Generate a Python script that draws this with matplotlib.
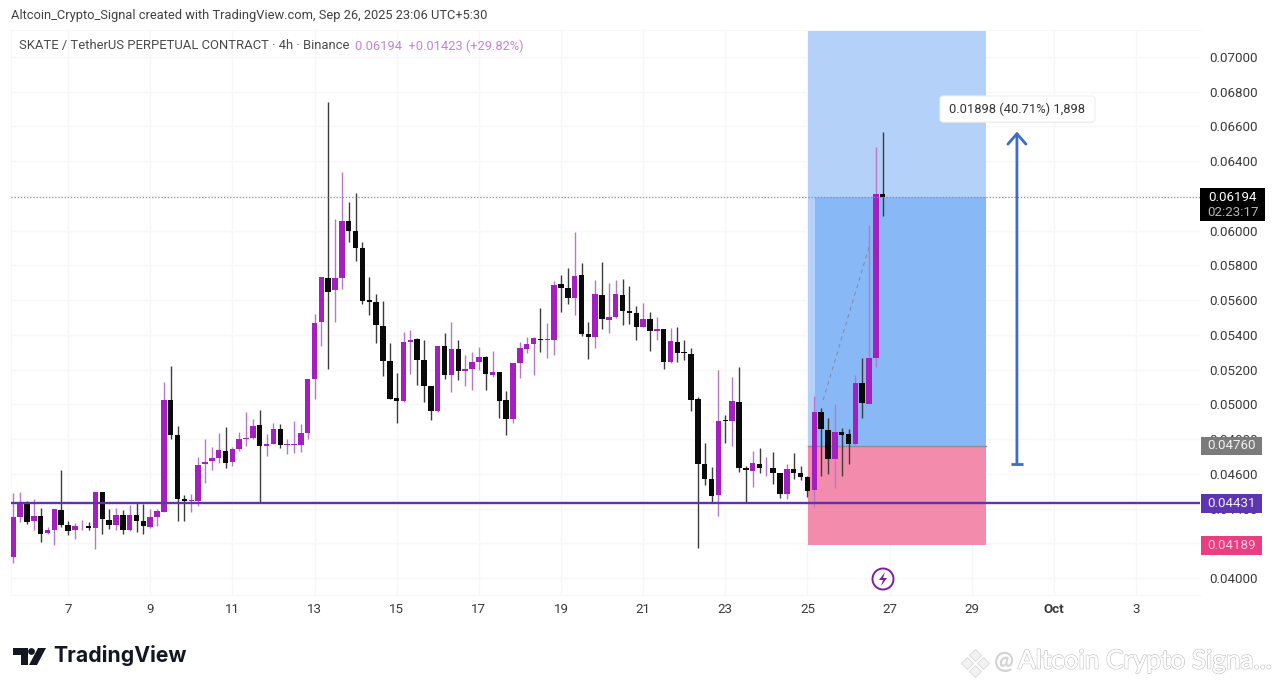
import numpy as np
import matplotlib
matplotlib.use('Agg')
import matplotlib.pyplot as plt
import matplotlib.patheffects as pe
from matplotlib.patches import Rectangle, FancyBboxPatch, Circle, Polygon
from matplotlib.transforms import blended_transform_factory

plt.rcParams['font.family'] = ['Roboto', 'DejaVu Sans']

# prices in exchange ticks (1 tick = 0.00001)
opens = [4118,4352,4425,4327,4358,4260,4279,4389,4304,4276,
         4297,4297,4289,4493,4335,4306,4360,4277,4364,4326,
         4295,4352,4381,5024,4821,4452,4445,4443,4654,4671,
         4690,4733,4665,4742,4798,4807,4880,4759,4773,4859,
         4765,4767,4767,4832,5147,5472,5729,5658,5729,6054,
         5996,5902,5600,5587,5453,5251,5034,5021,5358,5374,
         5255,5105,4961,5335,5168,5318,5193,5201,5245,5274,
         5168,5186,5024,4915,5236,5320,5347,5376,5370,5372,
         5693,5668,5614,5744,5402,5385,5631,5485,5504,5629,
         5535,5527,5447,5491,5424,5431,5241,5360,5299,5287,
         5028,4654,4567,4477,4909,4903,5015,4636,4617,4659,
         4631,4636,4602,4483,4629,4606,4579,4506,4957,4851,
         4686,4842,4830,4769,5120,5001,5264,6209]
highs = [4487,4494,4445,4456,4404,4295,4400,4621,4329,4318,
         4331,4320,4496,4496,4395,4404,4391,4423,4429,4425,
         4395,4400,5130,5220,4875,4477,4483,4698,4802,4756,
         4836,4871,4752,4842,4957,4917,4967,4827,4894,4884,
         4800,4903,4886,5145,5520,5735,6743,6067,6340,6167,
         6215,5933,5731,5633,5595,5355,5182,5414,5428,5380,
         5370,5105,5335,5408,5472,5370,5284,5303,5332,5278,
         5309,5188,5076,5239,5360,5385,5389,5556,5470,5712,
         5744,5787,5990,5811,5475,5715,5821,5696,5715,5721,
         5683,5566,5581,5533,5500,5431,5437,5447,5370,5322,
         5043,4778,4640,5197,4938,5155,5216,4644,4730,4746,
         4694,4727,4606,4659,4721,4644,4586,5047,4976,4919,
         5001,4861,4855,5168,5268,6032,6483,6566]
lows = [4087,4324,4308,4276,4206,4253,4189,4291,4245,4224,
        4276,4276,4164,4256,4283,4276,4251,4272,4266,4251,
        4289,4299,4377,4798,4326,4326,4381,4416,4544,4621,
        4663,4635,4644,4733,4761,4800,4429,4704,4771,4750,
        4715,4721,4727,4800,5028,5335,5201,5472,5664,5933,
        5827,5577,5514,5351,5163,5028,4890,5015,5172,5111,
        5015,4909,4957,5143,5072,5140,5105,5082,5197,5082,
        5159,4919,4823,4894,5149,5293,5168,5303,5268,5284,
        5533,5577,5514,5395,5258,5322,5431,5408,5495,5456,
        5462,5370,5443,5308,5370,5203,5239,5245,5255,4961,
        4170,4535,4439,4356,4778,4759,4611,4433,4521,4602,
        4586,4540,4458,4454,4567,4563,4467,4410,4586,4598,
        4519,4586,4656,4765,4922,4999,5212,6086]
closes = [4349,4429,4324,4358,4256,4276,4395,4304,4272,4297,
          4301,4285,4496,4339,4304,4360,4277,4364,4327,4299,
          4349,4383,5022,4823,4452,4443,4448,4652,4667,4690,
          4734,4663,4742,4798,4805,4877,4759,4773,4859,4765,
          4769,4771,4832,5143,5466,5731,5648,5725,6055,5996,
          5902,5597,5589,5454,5251,5030,5021,5357,5368,5255,
          5105,4959,5335,5168,5318,5193,5201,5245,5274,5172,
          5184,5021,4915,5239,5322,5345,5383,5368,5374,5687,
          5668,5614,5740,5402,5385,5633,5489,5504,5635,5537,
          5527,5443,5491,5424,5435,5241,5362,5293,5293,5024,
          4658,4567,4473,4905,4903,5018,4634,4621,4663,4631,
          4636,4602,4483,4627,4602,4583,4502,4957,4857,4686,
          4838,4825,4771,5120,5005,5264,6213,6194]

# x labels sit every 12 candles (2 days), candle 8 is Sep 7 00:00
day_ticks = [8, 20, 32, 44, 56, 68, 80, 92, 104, 116, 128, 140, 152, 164]
day_labels = ['7', '9', '11', '13', '15', '17', '19', '21', '23', '25', '27', '29', 'Oct', '3']
price_ticks = [0.04, 0.042, 0.044, 0.046, 0.048, 0.05, 0.052, 0.054, 0.056, 0.058,
               0.06, 0.062, 0.064, 0.066, 0.068, 0.07]

last_price = 0.06194
entry_price = 0.0476
stop_price = 0.04189
support_price = 0.04431
box_top = 0.07155
box_start, box_end = 116.1, 142.1
fill_start = 117.1
arrow_x, arrow_low, arrow_high = 146.6, 0.04656, 0.0657

UP = '#a31fc0'
DOWN = '#0a0a0a'
UP_WICK = '#b877cc'
DOWN_WICK = '#3c3c3c'
TEXT = '#3a3a3a'
GRID = '#f7f7f9'

o = np.array(opens) / 1e5
h = np.array(highs) / 1e5
l = np.array(lows) / 1e5
c = np.array(closes) / 1e5
x = np.arange(len(o))
up = c >= o

fig = plt.figure(figsize=(12.8, 6.89), dpi=100, facecolor='white')
ax = fig.add_axes([11 / 1280, 1 - 595 / 689, 1189 / 1280, 565 / 689])
ax.set_facecolor('white')
ax.set_xlim((11 - 13.3) / 6.846, (1200 - 13.3) / 6.846)
ax.set_ylim(0.03902, box_top)

ax.set_xticks(day_ticks)
ax.set_xticklabels(day_labels)
ax.set_yticks(price_ticks)
ax.set_yticklabels(['%.5f' % p for p in price_ticks])
ax.yaxis.tick_right()
ax.tick_params(axis='both', length=0, labelsize=9.6, labelcolor=TEXT)
ax.tick_params(axis='y', pad=6.5)
ax.tick_params(axis='x', pad=6)
ax.get_xticklabels()[12].set_fontweight('bold')
ax.grid(True, color=GRID, lw=1)
ax.set_axisbelow(True)
for s in ax.spines.values():
    s.set_color(GRID)
ax.spines['right'].set_visible(False)

# long position tool
ax.add_patch(Rectangle((box_start, entry_price), box_end - box_start, box_top - entry_price,
                       fc='#b4d1fa', ec='none', zorder=1))
ax.add_patch(Rectangle((fill_start, entry_price), box_end - fill_start, last_price - entry_price,
                       fc='#89b8f6', ec='none', zorder=1.1))
ax.add_patch(Rectangle((box_start, stop_price), box_end - box_start, entry_price - stop_price,
                       fc='#f38bad', ec='none', zorder=1))
ax.plot([box_start, box_end], [entry_price, entry_price], color='#8a8f9c', lw=1, zorder=1.2)
ax.plot([118.3, 125], [0.05025, 0.05906], color='#7d8aa0', lw=0.7, ls=(0, (4, 4)), zorder=1.3)

# candles
ax.vlines(x[up], l[up], h[up], color=UP_WICK, lw=1, zorder=2)
ax.vlines(x[~up], l[~up], h[~up], color=DOWN_WICK, lw=1, zorder=2)
ax.bar(x[up], (c - o)[up], bottom=o[up], width=0.8, color=UP, lw=0, zorder=3)
ax.bar(x[~up], (o - c)[~up], bottom=c[~up], width=0.8, color=DOWN, lw=0, zorder=3)

ax.axhline(last_price, color='#8e8e8e', lw=0.9, ls=(0, (1, 1.5)), zorder=4)
ax.axhline(support_price, color='#5f35a6', lw=1.7, zorder=5)

# measure arrow
ax.annotate('', xy=(arrow_x, arrow_high), xytext=(arrow_x, arrow_low),
            arrowprops=dict(arrowstyle='->,head_length=0.75,head_width=0.65', color='#3c6cc8',
                            lw=2, shrinkA=0, shrinkB=0), zorder=6)
ax.plot([arrow_x], [arrow_low], marker='_', ms=9, mew=2, color='#3c6cc8', zorder=6)

# overlay in figure pixels for header, badges and branding
ov = fig.add_axes([0, 0, 1, 1], facecolor='none')
ov.set_xlim(0, 1280)
ov.set_ylim(689, 0)
ov.axis('off')
badge_tf = blended_transform_factory(ov.transData, ax.transData)


def badge(price, color, fg='#f0f0f0', height=0.00109):
    ov.add_patch(FancyBboxPatch((1201, price - height / 2), 61, height, transform=badge_tf,
                                boxstyle='square,pad=0', fc=color, ec='none', zorder=3))
    ov.text(1231.5, price, '%.5f' % price, transform=badge_tf, ha='center', va='center',
            color=fg, fontsize=9.6, zorder=4)


badge(entry_price, '#7b7b7b')
badge(support_price, '#5e35b1')
badge(stop_price, '#e83e82', fg='#ffc4dc')
ov.add_patch(Rectangle((1200, 188), 65, 33, fc='black', ec='none', zorder=3))
ov.text(1232.5, 197.5, '0.06194', ha='center', va='center', color='white', fontsize=9.6, zorder=4)
ov.text(1232.5, 212, '02:23:17', ha='center', va='center', color='#b5b5b5', fontsize=9.6, zorder=4)

ov.text(11, 16, 'Altcoin_Crypto_Signal created with TradingView.com, Sep 26, 2025 23:06 UTC+5:30',
        ha='left', va='center', color='#404040', fontsize=9.27)
ov.text(19, 46, 'SKATE / TetherUS PERPETUAL CONTRACT \u00b7 4h \u00b7 Binance',
        ha='left', va='center', color='#4a4a4a', fontsize=9.4)
ov.text(355, 46, '0.06194  +0.01423 (+29.82%)', ha='left', va='center', color='#c681d8', fontsize=9.3)

# measure label
ov.add_patch(FancyBboxPatch((941, 98), 153, 25, boxstyle='round,pad=0,rounding_size=3',
                            fc='#dddddd', ec='none', alpha=0.6))
ov.add_patch(FancyBboxPatch((940, 96), 155, 26, boxstyle='round,pad=0,rounding_size=3',
                            fc='white', ec='#f0f0f0', lw=0.8))
ov.text(1017, 109, '0.01898 (40.71%) 1,898', ha='center', va='center', color='#333333', fontsize=9.3)

# lightning marker
ov.add_patch(Circle((883, 579), 10.5, fc='white', ec='#7b1fa2', lw=1.4))
ov.add_patch(Polygon([(885, 572), (879, 580), (883, 580), (881, 586), (887, 578), (883, 578)],
                     fc='#7b1fa2', ec='none'))

# TradingView logo
ov.add_patch(Polygon([(13, 648), (28, 648), (28, 665), (21, 665), (21, 655), (13, 655)], fc='#131722', ec='none'))
ov.add_patch(Circle((31.5, 651.5), 3.4, fc='#131722', ec='none'))
ov.add_patch(Polygon([(38, 648), (46, 648), (37, 665), (29, 665)], fc='#131722', ec='none'))
ov.text(53, 656, 'TradingView', ha='left', va='center', color='#131722', fontsize=15.3,
        fontweight='bold', family='Inter')

# watermark
for dx, dy in [(0, -8), (-8, 0), (8, 0), (0, 8)]:
    ov.plot([975 + dx], [663 + dy], marker='D', ms=6.5, mfc='#f2f2f2', mec='#dcdcdc', mew=0.7)
ov.text(994, 661, '@', ha='left', va='center', color='#d4d4d4', fontsize=17, fontweight='bold', family='Lato')
ov.text(1018, 661, 'Altcoin Crypto Signa...', ha='left', va='center', color='white', fontsize=18.8, family='Lato',
        path_effects=[pe.withStroke(linewidth=1.2, foreground='#c9c9c9'), pe.Normal()])

fig.savefig('out.png', dpi=100)
